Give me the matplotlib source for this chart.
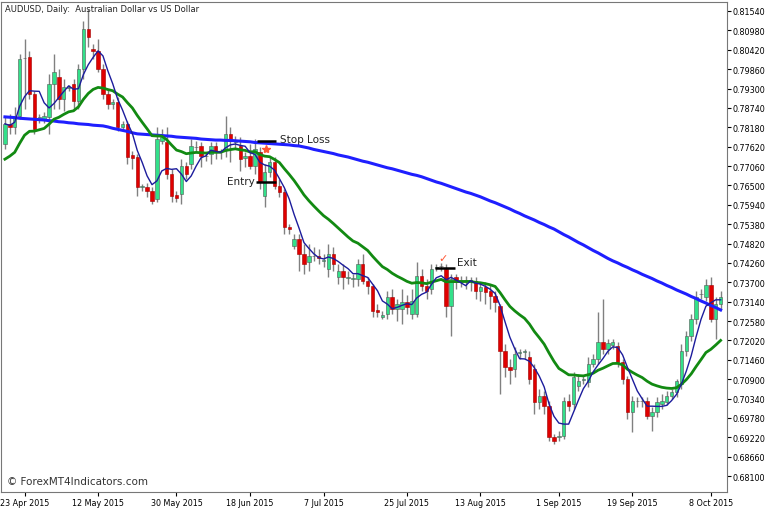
import matplotlib
matplotlib.use("Agg")
import matplotlib.pyplot as plt
import numpy as np

# prices in pips (x 1e-4)
opens = [7770,7828,7819,7851,8018,8021,7914,7842,7842,7848,7943,7964,7900,7932,7943,7894,7987,8102,8045,8039,
         7987,7914,7886,7891,7819,7828,7738,7732,7646,7646,7634,7611,7779,7776,7683,7623,7625,7706,7712,7761,
         7764,7735,7741,7764,7747,7755,7799,7776,7764,7730,7735,7706,7747,7620,7689,7718,7649,7631,7530,7475,
         7495,7452,7429,7446,7446,7432,7409,7452,7386,7403,7383,7380,7380,7423,7374,7360,7290,7270,7279,7328,
         7293,7293,7313,7279,7279,7388,7360,7351,7412,7417,7409,7302,7386,7374,7374,7374,7374,7345,7357,7345,
         7331,7302,7172,7125,7120,7166,7169,7154,7120,7024,7042,7013,6923,6923,6926,7027,7018,7071,7088,7082,
         7134,7149,7198,7177,7189,7186,7140,7091,6995,7027,7027,7027,6984,6995,7018,7024,7042,7053,7076,7172,
         7215,7264,7336,7328,7362,7264,7307]
closes = [7828,7819,7851,8016,8018,7914,7813,7848,7851,7943,7978,7900,7935,7932,7894,7987,8102,8079,8039,7987,
          7914,7886,7891,7819,7828,7732,7730,7646,7646,7634,7605,7784,7790,7683,7620,7614,7706,7683,7764,7761,
          7735,7735,7764,7747,7747,7799,7779,7776,7727,7735,7706,7755,7660,7689,7718,7649,7631,7530,7524,7495,
          7452,7423,7446,7446,7440,7432,7452,7423,7403,7386,7383,7380,7423,7374,7360,7287,7284,7276,7328,7293,
          7307,7313,7299,7316,7388,7360,7345,7409,7414,7417,7302,7380,7371,7374,7374,7374,7345,7357,7342,7331,
          7313,7172,7125,7117,7163,7169,7169,7091,7024,7042,7013,6923,6912,6926,7027,7013,7097,7085,7091,7134,
          7149,7198,7177,7195,7198,7140,7091,6995,7027,7027,7027,6984,6995,7024,7027,7042,7053,7085,7172,7215,
          7264,7328,7336,7362,7264,7307,7328]
highs = [7848,7857,7877,8030,8073,8039,7923,7857,7862,7972,8030,7987,7958,7940,7958,8001,8125,8160,8059,8073,
         8001,7929,7900,7906,7836,7836,7750,7741,7654,7657,7646,7819,7813,7819,7698,7634,7727,7718,7784,7779,
         7776,7747,7776,7776,7755,7851,7819,7793,7790,7747,7770,7784,7761,7712,7732,7732,7669,7640,7539,7510,
         7510,7481,7481,7472,7466,7452,7481,7472,7423,7423,7403,7394,7438,7452,7386,7365,7307,7287,7345,7351,
         7322,7351,7334,7351,7429,7409,7380,7423,7423,7426,7423,7394,7394,7388,7388,7386,7386,7371,7371,7365,
         7345,7307,7192,7149,7183,7177,7177,7172,7134,7062,7056,7027,6932,6941,7039,7047,7111,7105,7102,7154,
         7163,7284,7322,7206,7206,7198,7149,7099,7042,7039,7039,7039,7010,7039,7047,7056,7062,7091,7192,7230,
         7279,7345,7351,7380,7386,7328,7345]
lows = [7755,7799,7799,7842,7871,7900,7799,7831,7831,7799,7871,7871,7865,7923,7871,7871,7958,8050,8016,7978,
        7900,7871,7871,7807,7807,7712,7698,7620,7634,7617,7597,7602,7770,7669,7602,7602,7597,7669,7698,7750,
        7703,7721,7712,7727,7727,7732,7718,7755,7692,7703,7698,7683,7640,7588,7675,7640,7617,7510,7510,7466,
        7403,7394,7403,7432,7423,7414,7386,7403,7365,7351,7365,7357,7360,7365,7336,7270,7270,7264,7264,7279,
        7258,7250,7279,7264,7270,7345,7322,7336,7403,7403,7270,7215,7351,7357,7351,7345,7322,7316,7307,7293,
        7284,7047,7097,7076,7097,7149,7149,7076,6990,7004,6990,6912,6903,6912,6917,6998,7004,7056,7076,7068,
        7125,7134,7163,7163,7177,7125,7076,6975,6938,7010,7010,6975,6941,6981,7004,7016,7033,7039,7062,7157,
        7201,7250,7322,7316,7256,7206,7293]
# long moving average (pips)
slow_ma = [7848,7847,7846,7844,7843,7842,7841,7840,7839,7837,7836,
           7834,7833,7831,7830,7828,7827,7826,7824,7823,7822,
           7819,7815,7812,7809,7806,7802,7799,
           7798,7797,7796,7795,7794,7793,7792,7790,7789,7788,7787,7786,7784,
           7783,7782,7781,7781,7780,7780,7779,
           7778,7777,7776,7774,7773,7772,7771,7770,7769,7768,7767,7765,7764,
           7761,7758,7754,7751,7748,7745,7742,7738,7735,7732,
           7728,7724,7720,7717,7713,7709,
           7705,7701,7698,7694,7690,7686,7682,7679,7675,
           7670,7665,7660,7656,7651,7646,7641,7636,7631,7627,7622,7617,
           7611,7605,7600,7594,7588,
           7582,7575,7569,7562,7556,7550,7543,7537,7530,7524,
           7516,7508,7501,7493,7485,7478,7470,7462,7455,7447,7439,7432,
           7426,7419,7413,7406,7400,7393,7387,7381,7374,7368,7361,7355,7348,7342,
           7336,7329,7323,7316,7310,7303,7297,7290]

tick_idx = [4, 19, 35, 50, 65, 82, 97, 113, 128, 144]
tick_labels = ["23 Apr 2015", "12 May 2015", "30 May 2015", "18 Jun 2015", "7 Jul 2015",
               "25 Jul 2015", "13 Aug 2015", "1 Sep 2015", "19 Sep 2015", "8 Oct 2015"]
y_ticks = [0.81540, 0.80980, 0.80420, 0.79860, 0.79300, 0.78740, 0.78180, 0.77620, 0.77060,
           0.76500, 0.75940, 0.75380, 0.74820, 0.74260, 0.73700, 0.73140, 0.72580, 0.72020,
           0.71460, 0.70900, 0.70340, 0.69780, 0.69220, 0.68660, 0.68100]

o = np.array(opens) / 1e4
c = np.array(closes) / 1e4
h = np.array(highs) / 1e4
l = np.array(lows) / 1e4
slow = np.array(slow_ma) / 1e4
n = len(c)
x = np.arange(n)

def ema(vals, period, seed):
    out = []
    v = seed
    a = 2.0 / (period + 1)
    for p in vals:
        v = v + a * (p - v)
        out.append(v)
    return np.array(out)

fast = np.array([c[max(0, i - 4):i + 1].mean() for i in range(n)])
mid = ema(c, 20, 0.7715)

fig = plt.figure(figsize=(7.68, 5.10), dpi=100)
ax = fig.add_axes([1 / 768, 17 / 510, 726 / 768, 490 / 510])

for i in range(n):
    ax.vlines(x[i], l[i], h[i], color="#808080", lw=1, zorder=2)
    bull = c[i] >= o[i]
    lo, hi = min(o[i], c[i]), max(o[i], c[i])
    hgt = max(hi - lo, 0.00012)
    col = "#33e08a" if bull else "#e00000"
    ax.bar(x[i], hgt, bottom=lo, width=0.7, color=col, edgecolor="#555555" if bull else "#a00000",
           lw=0.4, zorder=3)

ax.plot(x, slow, color="#1f1fff", lw=2.2, zorder=4)
ax.plot(x, mid, color="#128a12", lw=2.0, zorder=4)
ax.plot(x, fast, color="#1c1c9c", lw=1.0, zorder=5)

# annotations
ax.hlines(0.7779, 51.4, 55.2, color="black", lw=1.8, zorder=6)
ax.text(56.2, 0.7785, "Stop Loss", fontsize=7.5, va="center", ha="left", color="#222222")
ax.hlines(0.7659, 51.2, 55.2, color="black", lw=1.8, zorder=6)
ax.text(51.0, 0.7662, "Entry", fontsize=7.5, va="center", ha="right", color="#222222")
ax.plot([53.3], [0.7755], marker="*", color="#ff5533", ms=6, zorder=7)
ax.hlines(0.7412, 87.8, 91.8, color="black", lw=1.8, zorder=6)
ax.text(92.2, 0.7428, "Exit", fontsize=7.5, va="center", ha="left", color="#222222")
ax.text(89.3, 0.7440, "\u2713", fontsize=8, color="#ff5533", ha="center", va="center")

ax.set_xlim(-0.8, 147.3)
ax.set_ylim(0.67640, 0.81800)
ax.yaxis.tick_right()
ax.set_yticks(y_ticks)
ax.set_yticklabels(["%.5f" % v for v in y_ticks], fontsize=5.8)
ax.set_xticks(tick_idx)
ax.set_xticklabels(tick_labels, fontsize=5.8)
ax.tick_params(axis="y", length=3, pad=1)
ax.tick_params(axis="x", length=3, pad=1)
for s in ax.spines.values():
    s.set_color("#777777")
    s.set_linewidth(0.8)

ax.text(0.005, 0.995, "AUDUSD, Daily:  Australian Dollar vs US Dollar", transform=ax.transAxes,
        fontsize=6.0, va="top", ha="left", color="#222222")
ax.text(0.008, 0.012, "\u00a9 ForexMT4Indicators.com", transform=ax.transAxes,
        fontsize=7.5, va="bottom", ha="left", color="#333333")

fig.savefig("out.png", dpi=100)
